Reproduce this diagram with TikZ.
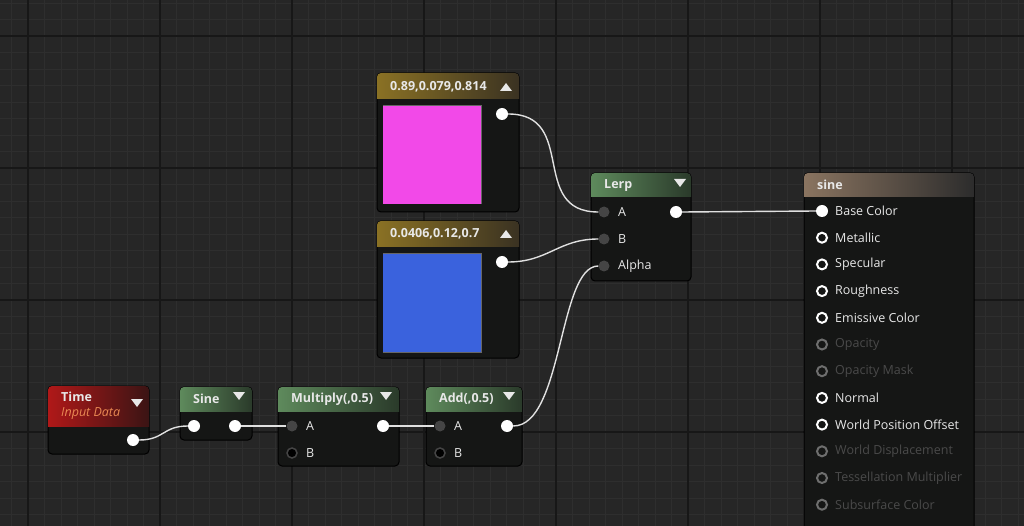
\documentclass[tikz,border=0pt]{standalone}
\usepackage{fontspec}
\setmainfont{Open Sans}
\usetikzlibrary{calc}
\definecolor{bg}{HTML}{262626}
\definecolor{minor}{HTML}{2E2E2E}
\definecolor{major}{HTML}{171717}
\definecolor{body}{HTML}{151615}
\definecolor{green1}{HTML}{5E8A5C}
\definecolor{green2}{HTML}{2A3A2A}
\definecolor{gold1}{HTML}{8A7124}
\definecolor{gold2}{HTML}{3A3222}
\definecolor{red1}{HTML}{B01818}
\definecolor{red2}{HTML}{3A1414}
\definecolor{brown1}{HTML}{8A7460}
\definecolor{brown2}{HTML}{2C2C2C}
\definecolor{txt}{HTML}{E8E8E8}
\definecolor{dim}{HTML}{4A4A4A}
\definecolor{pinoff}{HTML}{454545}
\definecolor{wire}{HTML}{E0E0E0}
\tikzset{
  x=1pt,y=-1pt,
  nodebody/.style={fill=body,draw=black,line width=1pt,rounded corners=4pt},
  lbl/.style={text=txt,font=\fontsize{12.5}{14}\selectfont,anchor=west,inner sep=0},
  hlbl/.style={text=txt,font=\bfseries\fontsize{12.5}{14}\selectfont,anchor=west,inner sep=0},
  dimlbl/.style={text=dim,font=\fontsize{12.5}{14}\selectfont,anchor=west,inner sep=0},
  pinon/.style={circle,fill=white,inner sep=0,minimum size=12pt},
  pindark/.style={circle,fill=pinoff,inner sep=0,minimum size=11pt},
  pinring/.style={circle,draw=white,line width=2pt,fill=body,inner sep=0,minimum size=10pt},
  pindimring/.style={circle,draw=dim!80,line width=2pt,fill=body,inner sep=0,minimum size=10pt},
  pinblack/.style={circle,draw=pinoff,line width=1.5pt,fill=black,inner sep=0,minimum size=10pt},
  wirestyle/.style={draw=wire,line width=1.4pt},
  tri/.style={fill=txt}
}
\newcommand{\hdr}[6]{% x1 y1 x2 y2 leftcolor rightcolor
  \begin{scope}
  \clip[rounded corners=4pt] (#1,#2) rectangle (#3,#4+6);
  \shade[left color=#5,right color=#6] (#1,#2) rectangle (#3,#4);
  \end{scope}}
\newcommand{\downtri}[2]{\fill[tri] (#1-6,#2-4) -- (#1+6,#2-4) -- (#1,#2+4) -- cycle;}
\newcommand{\uptri}[2]{\fill[tri] (#1-6,#2+4) -- (#1+6,#2+4) -- (#1,#2-4) -- cycle;}
\begin{document}
\begin{tikzpicture}
\useasboundingbox (0,0) rectangle (1024,526);
\fill[bg] (0,0) rectangle (1024,526);
% minor grid
\foreach \i in {0,...,63}{\draw[minor,line width=0.8pt] ({11.5+16.5*\i},0) -- ({11.5+16.5*\i},526);}
\foreach \i in {0,...,32}{\draw[minor,line width=0.8pt] (0,{3+16.5*\i}) -- (1024,{3+16.5*\i});}
% major grid
\foreach \x in {28,160,292,424,556,688,820,952}{\draw[major,line width=1.2pt] (\x,0) -- (\x,526);}
\foreach \y in {36,168,300,432}{\draw[major,line width=1.2pt] (0,\y) -- (1024,\y);}

% Time
\draw[nodebody] (48,386) rectangle (149,454);
\hdr{48}{386}{149}{426}{red1}{red2}
\node[hlbl] (timet) at (61,397) {Time};
\node[lbl,text=red1!40!orange!70!white,font=\itshape\fontsize{12.5}{14}\selectfont] (timesub) at (61,414) {Input Data};
\downtri{137}{403}
\node[pinon] (timeout) at (133,440) {};

% Sine
\draw[nodebody] (180,387) rectangle (252,440);
\hdr{180}{387}{252}{411}{green1}{green2}
\node[hlbl] (sinet) at (193,399) {Sine};
\downtri{239}{396}
\node[pinon] (sinein) at (194,426) {};
\node[pinon] (sineout) at (235,426) {};

% Multiply
\draw[nodebody] (278,387) rectangle (399,466);
\hdr{278}{387}{399}{411}{green1}{green2}
\node[hlbl] (mult) at (291,399) {Multiply(,0.5)};
\downtri{386}{396}
\node[pindark] (mulA) at (292,426) {};
\node[lbl] (mulAl) at (306,426) {A};
\node[pinblack] (mulB) at (292,453) {};
\node[lbl] (mulBl) at (306,453) {B};
\node[pinon] (mulout) at (383,426) {};

% Add
\draw[nodebody] (426,387) rectangle (522,466);
\hdr{426}{387}{522}{411}{green1}{green2}
\node[hlbl] (addt) at (439,399) {Add(,0.5)};
\downtri{509}{396}
\node[pindark] (addA) at (440,426) {};
\node[lbl] (addAl) at (454,426) {A};
\node[pinblack] (addB) at (440,453) {};
\node[lbl] (addBl) at (454,453) {B};
\node[pinon] (addout) at (507,426) {};

% Color 1
\draw[nodebody] (377,73) rectangle (519,212);
\hdr{377}{73}{519}{99}{gold1}{gold2}
\node[hlbl] (c1t) at (390,87) {0.89,0.079,0.814};
\uptri{506}{87}
\fill[fill=black!60] (382.5,105.5) rectangle (481.5,204.5);
\fill[fill={rgb,255:red,242;green,73;blue,232}] (383,106) rectangle (481,204);
\node[pinon] (c1out) at (502,114) {};

% Color 2
\draw[nodebody] (377,221) rectangle (519,358);
\hdr{377}{221}{519}{247}{gold1}{gold2}
\node[hlbl] (c2t) at (390,234) {0.0406,0.12,0.7};
\uptri{506}{234}
\fill[fill=black!60] (382.5,253.5) rectangle (481.5,352.5);
\fill[fill={rgb,255:red,58;green,98;blue,221}] (383,254) rectangle (481,352);
\node[pinon] (c2out) at (502,262) {};

% Lerp
\draw[nodebody] (591,173) rectangle (691,281);
\hdr{591}{173}{691}{197}{green1}{green2}
\node[hlbl] (lerpt) at (604,186) {Lerp};
\downtri{680}{183}
\node[pindark] (lerpA) at (604,212) {};
\node[lbl] (lerpAl) at (618,212) {A};
\node[pindark] (lerpB) at (604,239) {};
\node[lbl] (lerpBl) at (618,239) {B};
\node[pindark] (lerpAl2) at (604,266) {};
\node[lbl] (lerpAlpha) at (618,266) {Alpha};
\node[pinon] (lerpout) at (676,212) {};

% Material result node
\draw[nodebody] (804,173) rectangle (974,540);
\hdr{804}{173}{974}{197}{brown1}{brown2}
\node[hlbl] (matt) at (817,185) {sine};
\node[pinon] (mp0) at (822,211) {};
\node[lbl] at (835,211) {Base Color};
\foreach \n/\t [count=\k] in {1/Metallic,2/Specular,3/Roughness,4/Emissive Color}{
  \node[pinring] (mp\n) at (822,{211+26.7*\k}) {};
  \node[lbl] at (835,{211+26.7*\k}) {\t};}
\foreach \n/\t/\k in {5/Opacity/5,6/Opacity Mask/6}{
  \node[pindimring] (mp\n) at (822,{211+26.7*\k}) {};
  \node[dimlbl] at (835,{211+26.7*\k}) {\t};}
\foreach \n/\t/\k in {7/Normal/7,8/World Position Offset/8}{
  \node[pinring] (mp\n) at (822,{211+26.7*\k}) {};
  \node[lbl] at (835,{211+26.7*\k}) {\t};}
\foreach \n/\t/\k in {9/World Displacement/9,10/Tessellation Multiplier/10,11/Subsurface Color/11}{
  \node[pindimring] (mp\n) at (822,{211+26.7*\k}) {};
  \node[dimlbl] at (835,{211+26.7*\k}) {\t};}

% wires
\draw[wirestyle] (timeout.east) .. controls +(25,0) and +(-25,0) .. (sinein.west);
\draw[wirestyle] (sineout.east) -- (mulA.west);
\draw[wirestyle] (mulout.east) -- (addA.west);
\draw[wirestyle] (addout.east) .. controls +(50,0) and +(-40,0) .. (lerpAl2.west);
\draw[wirestyle] (c1out.east) .. controls +(70,0) and +(-70,0) .. (lerpA.west);
\draw[wirestyle] (c2out.east) .. controls +(40,0) and +(-40,0) .. (lerpB.west);
\draw[wirestyle] (lerpout.east) -- (mp0.west);
\end{tikzpicture}
\end{document}
